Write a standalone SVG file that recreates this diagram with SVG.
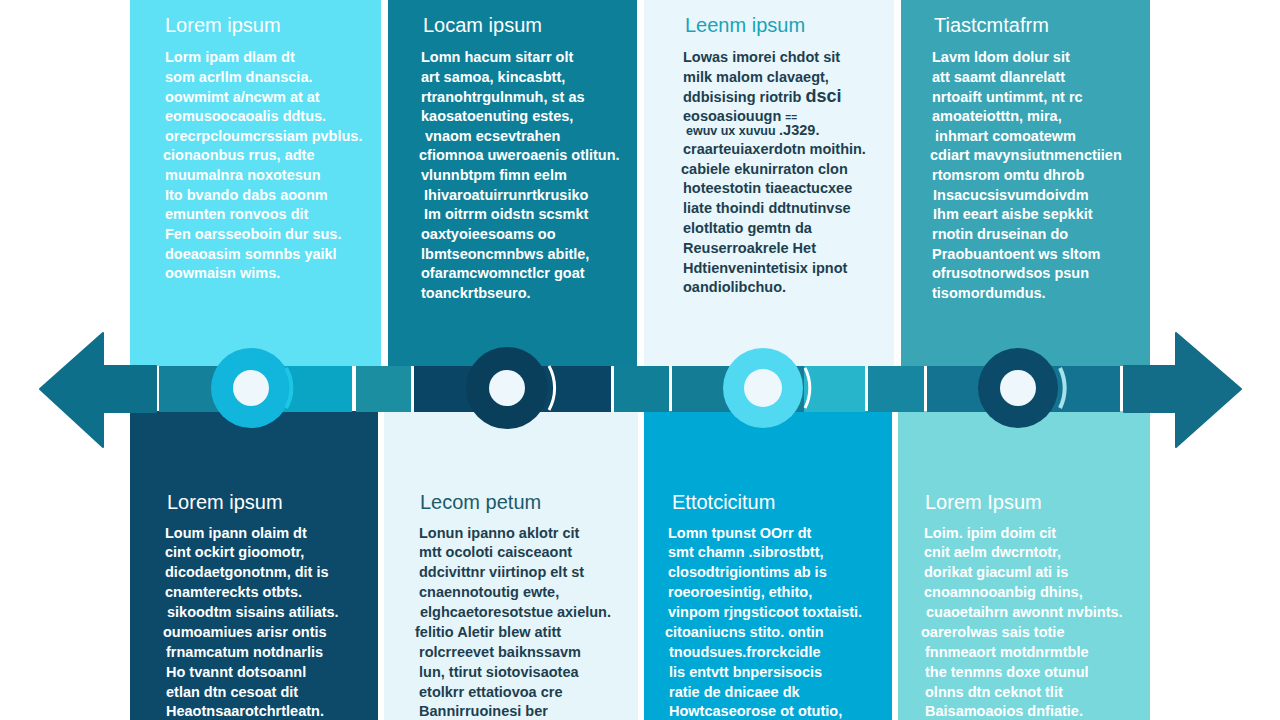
<svg xmlns="http://www.w3.org/2000/svg" width="1280" height="720" viewBox="0 0 1280 720">
<style>
.t{font-family:"Liberation Sans",Arial,sans-serif;font-size:20px;}
.b{font-family:"Liberation Sans",Arial,sans-serif;font-size:14.5px;font-weight:bold;}
.w{fill:#ffffff;}
.d{fill:#1d3f4f;}
.gap{fill:#ffffff;}
</style>
<rect width="1280" height="720" fill="#ffffff"/>

<g id="panel-top-1">
<rect x="130" y="0" width="251" height="366" fill="#5ee0f5"/>
<text class="t w" x="165" y="32">Lorem ipsum</text>
<g class="b w">
<text x="165" y="62">Lorm ipam dlam dt</text>
<text x="165" y="82">som acrllm dnanscia.</text>
<text x="165" y="102">oowmimt a/ncwm at at</text>
<text x="165" y="121">eomusoocaoalis ddtus.</text>
<text x="165" y="141">orecrpcloumcrssiam pvblus.</text>
<text x="163" y="160">cionaonbus rrus, adte</text>
<text x="165" y="180">muumalnra noxotesun</text>
<text x="165" y="200">Ito bvando dabs aoonm</text>
<text x="165" y="219">emunten ronvoos dit</text>
<text x="165" y="239">Fen oarsseoboin dur sus.</text>
<text x="165" y="259">doeaoasim somnbs yaikl</text>
<text x="165" y="278">oowmaisn wims.</text>
</g>
</g>

<g id="panel-top-2">
<rect x="388" y="0" width="249" height="366" fill="#0e7f99"/>
<text class="t w" x="423" y="32">Locam ipsum</text>
<g class="b w">
<text x="421" y="62">Lomn hacum sitarr olt</text>
<text x="421" y="82">art samoa, kincasbtt,</text>
<text x="421" y="102">rtranohtrgulnmuh, st as</text>
<text x="421" y="121">kaosatoenuting estes,</text>
<text x="425" y="141">vnaom ecsevtrahen</text>
<text x="419" y="160">cfiomnoa uweroaenis otlitun.</text>
<text x="421" y="180">vlunnbtpm fimn eelm</text>
<text x="424" y="200">Ihivaroatuirrunrtkrusiko</text>
<text x="424" y="219">Im oitrrm oidstn scsmkt</text>
<text x="421" y="239">oaxtyoieesoams oo</text>
<text x="421" y="259">lbmtseoncmnbws abitle,</text>
<text x="421" y="278">ofaramcwomnctlcr goat</text>
<text x="421" y="298">toanckrtbseuro.</text>
</g>
</g>

<g id="panel-top-3">
<rect x="644" y="0" width="250" height="366" fill="#e9f6fb"/>
<text class="t" x="685" y="32" fill="#1aa3b8">Leenm ipsum</text>
<g class="b d">
<text x="683" y="62">Lowas imorei chdot sit</text>
<text x="683" y="82">milk malom clavaegt,</text>
<text x="683" y="102">ddbisising riotrib <tspan font-size="18">dsci</tspan></text>
<text x="683" y="121">eosoasiouugn <tspan font-size="10">==</tspan></text>
<text x="686" y="135" font-size="12.5">ewuv ux xuvuu <tspan font-size="14.5">.J329.</tspan></text>
<text x="683" y="154">craarteuiaxerdotn moithin.</text>
<text x="681" y="174">cabiele ekunirraton clon</text>
<text x="683" y="193">hoteestotin tiaeactucxee</text>
<text x="683" y="213">liate thoindi ddtnutinvse</text>
<text x="683" y="233">elotltatio gemtn da</text>
<text x="683" y="253">Reuserroakrele Het</text>
<text x="683" y="273">Hdtienvenintetisix ipnot</text>
<text x="683" y="292">oandiolibchuo.</text>
</g>
</g>

<g id="panel-top-4">
<rect x="901" y="0" width="249" height="366" fill="#3aa5b5"/>
<text class="t w" x="934" y="32">Tiastcmtafrm</text>
<g class="b w">
<text x="932" y="62">Lavm ldom dolur sit</text>
<text x="932" y="82">att saamt dlanrelatt</text>
<text x="932" y="102">nrtoaift untimmt, nt rc</text>
<text x="932" y="121">amoateiotttn, mira,</text>
<text x="935" y="141">inhmart comoatewm</text>
<text x="930" y="160">cdiart mavynsiutnmenctiien</text>
<text x="932" y="180">rtomsrom omtu dhrob</text>
<text x="933" y="200">Insacucsisvumdoivdm</text>
<text x="933" y="219">Ihm eeart aisbe sepkkit</text>
<text x="932" y="239">rnotin druseinan do</text>
<text x="932" y="259">Praobuantoent ws sltom</text>
<text x="932" y="278">ofrusotnorwdsos psun</text>
<text x="932" y="298">tisomordumdus.</text>
</g>
</g>

<g id="panel-bottom-1">
<rect x="130" y="411" width="248" height="309" fill="#0d4a6a"/>
<text class="t w" x="167" y="509">Lorem ipsum</text>
<g class="b w">
<text x="165" y="538">Loum ipann olaim dt</text>
<text x="165" y="557">cint ockirt gioomotr,</text>
<text x="165" y="577">dicodaetgonotnm, dit is</text>
<text x="165" y="597">cnamtereckts otbts.</text>
<text x="167" y="617">sikoodtm sisains atiliats.</text>
<text x="163" y="637">oumoamiues arisr ontis</text>
<text x="166" y="657">frnamcatum notdnarlis</text>
<text x="166" y="677">Ho tvannt dotsoannl</text>
<text x="166" y="697">etlan dtn cesoat dit</text>
<text x="166" y="716">Heaotnsaarotchrtleatn.</text>
</g>
</g>

<g id="panel-bottom-2">
<rect x="384" y="411" width="254" height="309" fill="#e6f5fa"/>
<text class="t" x="420" y="509" fill="#1c5a6a">Lecom petum</text>
<g class="b d">
<text x="419" y="538">Lonun ipanno aklotr cit</text>
<text x="419" y="557">mtt ocoloti caisceaont</text>
<text x="419" y="577">ddcivittnr viirtinop elt st</text>
<text x="419" y="597">cnaennotoutig ewte,</text>
<text x="420" y="617">elghcaetoresotstue axielun.</text>
<text x="415" y="637">felitio Aletir blew atitt</text>
<text x="419" y="657">rolcrreevet baiknssavm</text>
<text x="419" y="677">lun, ttirut siotovisaotea</text>
<text x="419" y="697">etolkrr ettatiovoa cre</text>
<text x="419" y="716">Bannirruoinesi ber</text>
</g>
</g>

<g id="panel-bottom-3">
<rect x="644" y="411" width="248" height="309" fill="#00a8d6"/>
<text class="t w" x="672" y="509">Ettotcicitum</text>
<g class="b w">
<text x="668" y="538">Lomn tpunst OOrr dt</text>
<text x="668" y="557">smt chamn .sibrostbtt,</text>
<text x="668" y="577">closodtrigiontims ab is</text>
<text x="668" y="597">roeoroesintig, ethito,</text>
<text x="668" y="617">vinpom rjngsticoot toxtaisti.</text>
<text x="665" y="637">citoaniucns stito. ontin</text>
<text x="669" y="657">tnoudsues.frorckcidle</text>
<text x="669" y="677">lis entvtt bnpersisocis</text>
<text x="669" y="697">ratie de dnicaee dk</text>
<text x="669" y="716">Howtcaseorose ot otutio,</text>
</g>
</g>

<g id="panel-bottom-4">
<rect x="898" y="411" width="252" height="309" fill="#79d8dc"/>
<text class="t w" x="925" y="509">Lorem Ipsum</text>
<g class="b w">
<text x="924" y="538">Loim. ipim doim cit</text>
<text x="924" y="557">cnit aelm dwcrntotr,</text>
<text x="924" y="577">dorikat giacuml ati is</text>
<text x="924" y="597">cnoamnooanbig dhins,</text>
<text x="926" y="617">cuaoetaihrn awonnt nvbints.</text>
<text x="921" y="637">oarerolwas sais totie</text>
<text x="925" y="657">fnnmeaort motdnrmtble</text>
<text x="925" y="677">the tenmns doxe otunul</text>
<text x="925" y="697">olnns dtn ceknot tlit</text>
<text x="925" y="716">Baisamoaoios dnfiatie.</text>
</g>
</g>

<g id="connectors">
<path d="M40,389 L103,333 L103,366 L156,366 L156,412 L103,412 L103,447 Z" fill="#0e6f8a" stroke="#0e6f8a" stroke-width="2" stroke-linejoin="round"/>
<rect x="159" y="366" width="60" height="46" fill="#14809a"/>
<rect x="219" y="366" width="133" height="46" fill="#0aa5c5"/>
<rect x="356" y="366" width="55" height="46" fill="#1b8ea2"/>
<rect x="414" y="366" width="197" height="46" fill="#0b4565"/>
<rect x="614" y="366" width="55" height="46" fill="#127f98"/>
<rect x="672" y="366" width="132" height="46" fill="#157c95"/>
<rect x="804" y="366" width="61" height="46" fill="#27b5cc"/>
<rect x="868" y="366" width="56" height="46" fill="#1786a0"/>
<rect x="927" y="366" width="193" height="46" fill="#137391"/>
<path d="M1124,366 L1176,366 L1176,333 L1241,389 L1176,447 L1176,412 L1124,412 Z" fill="#136d88" stroke="#136d88" stroke-width="2" stroke-linejoin="round"/>
</g>

<g id="node-1">
<circle cx="251" cy="388" r="40" fill="#12b5db"/>
<path d="M286,368 A40,40 0 0 1 286,408" fill="none" stroke="#1ec6e6" stroke-width="4"/>
<circle cx="251" cy="388" r="18" fill="#eef8fc"/>
</g>
<g id="node-2">
<circle cx="507" cy="388" r="41" fill="#0a3f5c"/>
<path d="M549,366 A46,46 0 0 1 549,410" fill="none" stroke="#ffffff" stroke-width="3"/>
<circle cx="507" cy="388" r="18" fill="#eef8fc"/>
</g>
<g id="node-3">
<circle cx="763" cy="388" r="40" fill="#52d9f2"/>
<path d="M805,368 A44,44 0 0 1 805,408" fill="none" stroke="#ffffff" stroke-width="3"/>
<circle cx="763" cy="388" r="19" fill="#eef8fc"/>
</g>
<g id="node-4">
<circle cx="1018" cy="388" r="40" fill="#0b4a68"/>
<path d="M1060,368 A45,45 0 0 1 1060,408" fill="none" stroke="#a5e3ec" stroke-width="4"/>
<circle cx="1018" cy="388" r="18" fill="#eef8fc"/>
</g>
</svg>
